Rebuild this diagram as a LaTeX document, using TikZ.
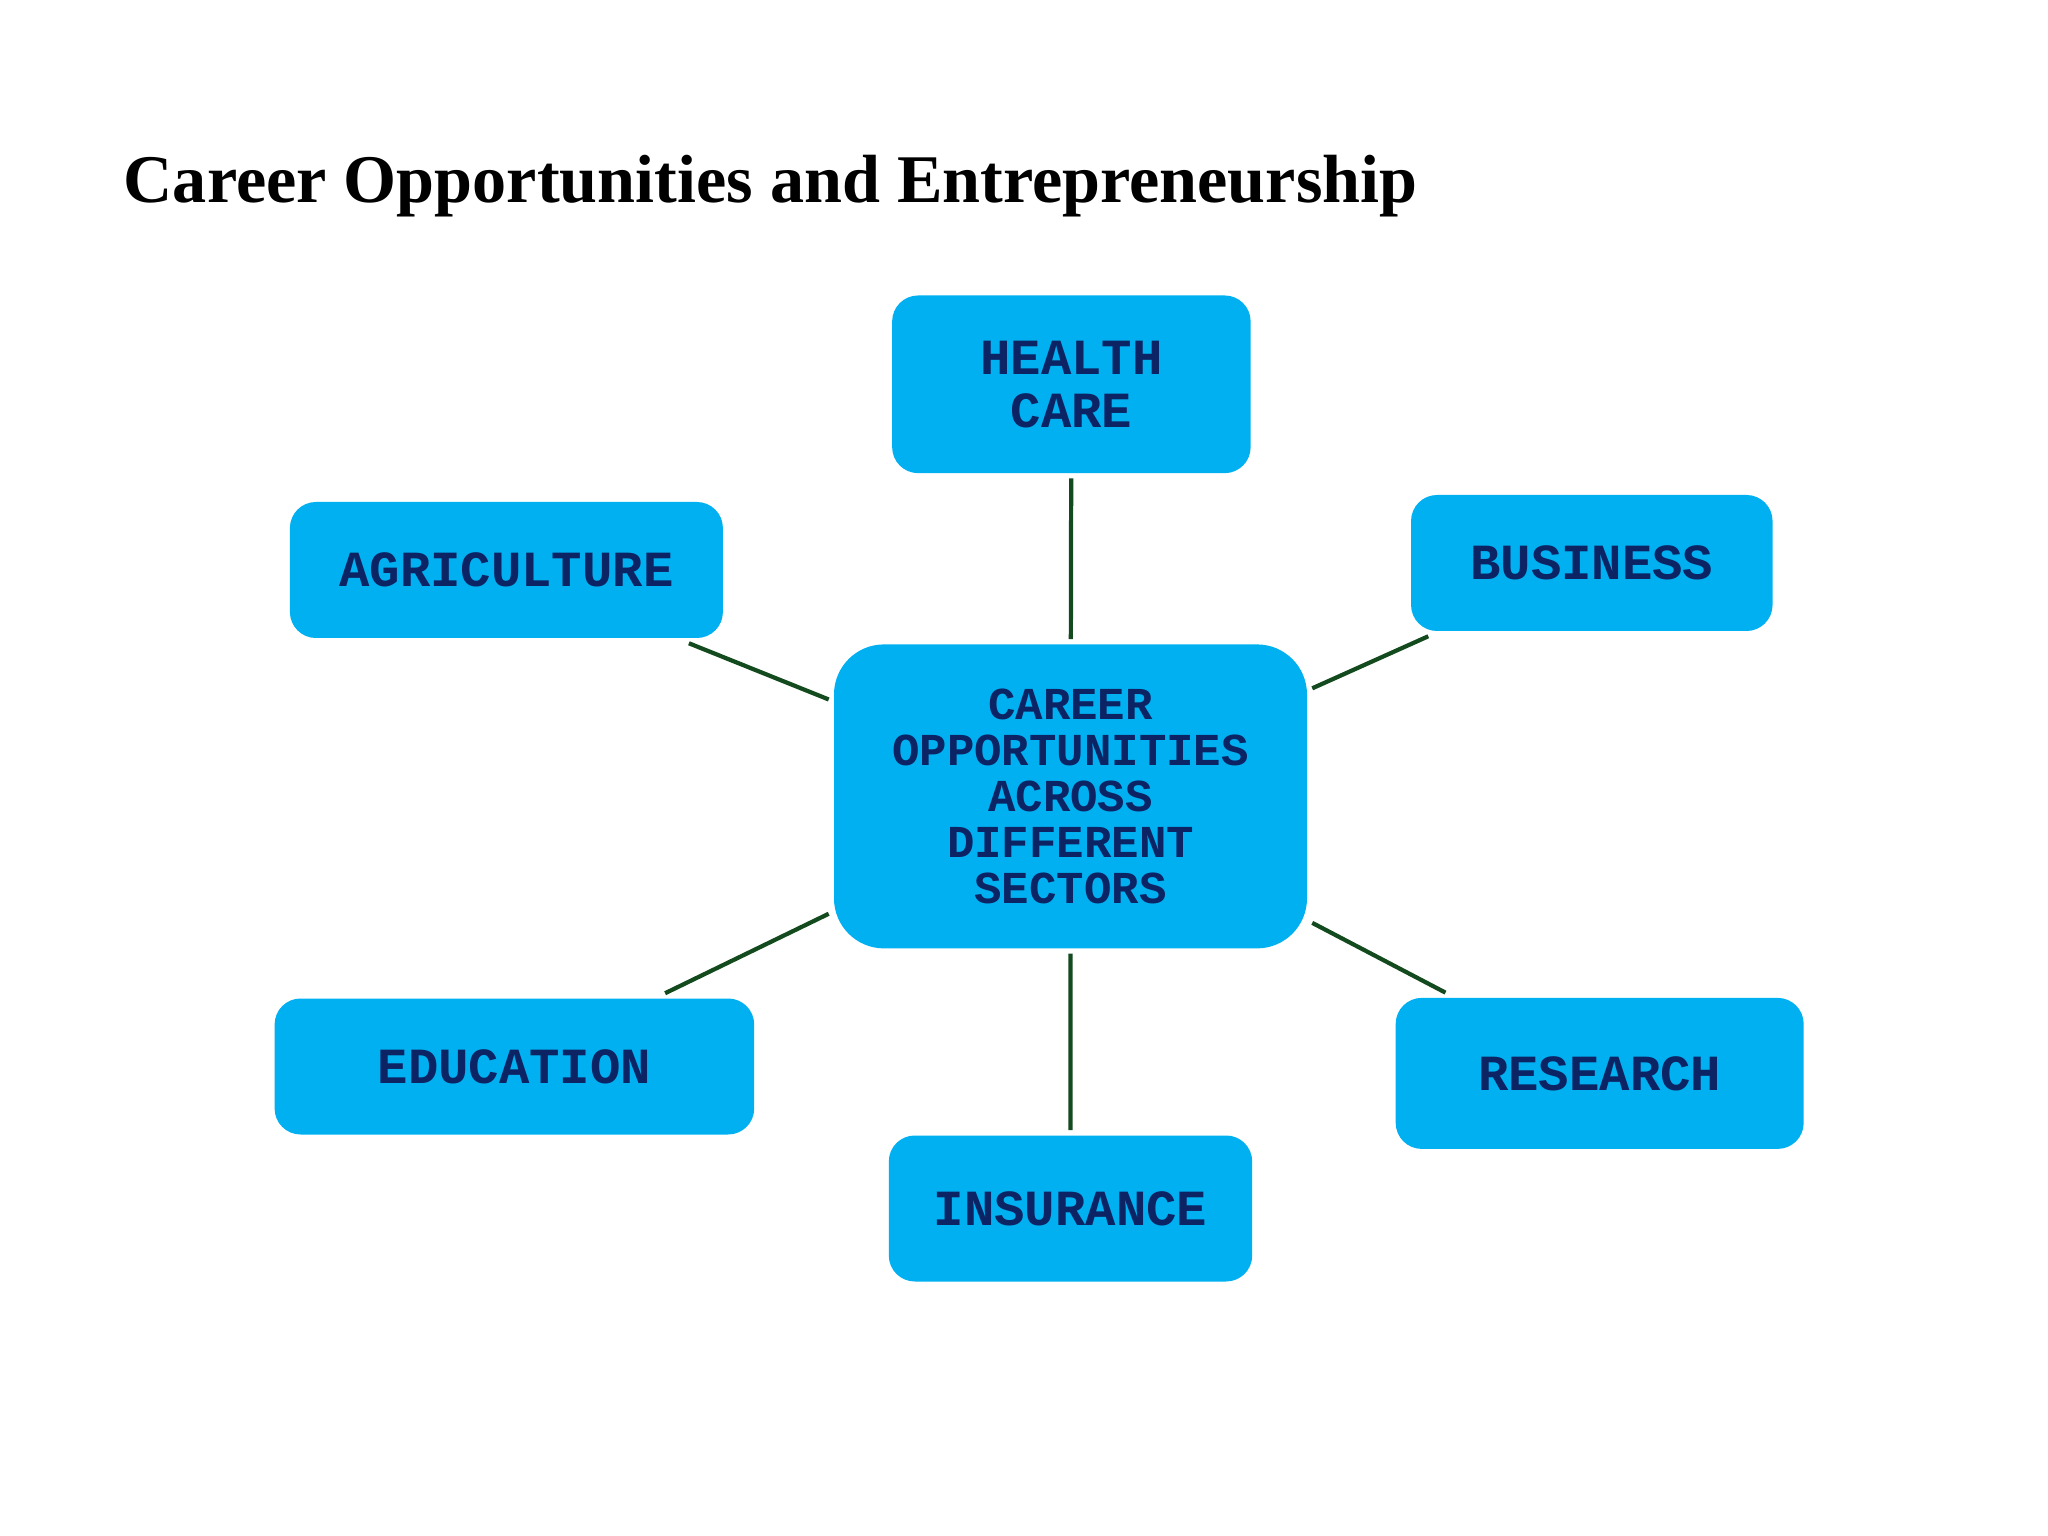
\documentclass[tikz,border=0pt]{standalone}
\usepackage{fontspec}
\setmainfont{Liberation Serif}
\newfontfamily\monofont{Liberation Mono}
\usepackage{xcolor}
\usepackage{tikz}
\definecolor{boxcyan}{HTML}{00B0F0}
\definecolor{boxnavy}{RGB}{12,35,100}
\definecolor{linkgreen}{RGB}{20,75,30}
\tikzset{
  sector/.style={rectangle, rounded corners=0.26cm, fill=boxcyan, inner sep=0pt, outer sep=1.5pt,
    align=center, text=boxnavy, font=\monofont\bfseries\fontsize{14.4}{15}\selectfont},
  link/.style={draw=linkgreen, line width=1.2pt}
}

\begin{document}
\begin{tikzpicture}
            \useasboundingbox (0,0) rectangle (20.48,-15.36);
            \node[anchor=base west, inner sep=0pt, font=\bfseries\fontsize{19.4}{22}\selectfont]
              (T) at (1.23,-2.03) {Career Opportunities and Entrepreneurship};
            \node[sector, rounded corners=0.5cm, minimum width=4.73cm, minimum height=3.04cm,
                  font=\monofont\bfseries\fontsize{13}{13.1}\selectfont]
              (C) at (10.705,-7.964) {CAREER\\OPPORTUNITIES\\ACROSS\\DIFFERENT\\SECTORS};
            \node[sector, minimum width=3.585cm, minimum height=1.777cm](H) at (10.714,-3.843) {HEALTH\\CARE};
            \node[sector, minimum width=4.33cm, minimum height=1.36cm](A) at (5.064,-5.70) {AGRICULTURE};
            \node[sector, minimum width=3.615cm, minimum height=1.36cm](B) at (15.918,-5.63) {BUSINESS};
            \node[sector, minimum width=4.796cm, minimum height=1.36cm](E) at (5.144,-10.665) {EDUCATION};
            \node[sector, minimum width=4.08cm, minimum height=1.51cm](R) at (15.997,-10.734) {RESEARCH};
            \node[sector, minimum width=3.634cm, minimum height=1.46cm](I) at (10.705,-12.085) {INSURANCE};
            \draw[link] (C) -- (H) (C) -- (A) (C) -- (B)
                        (C) -- (E) (C) -- (R) (C) -- (I);
        \end{tikzpicture}
\end{document}
